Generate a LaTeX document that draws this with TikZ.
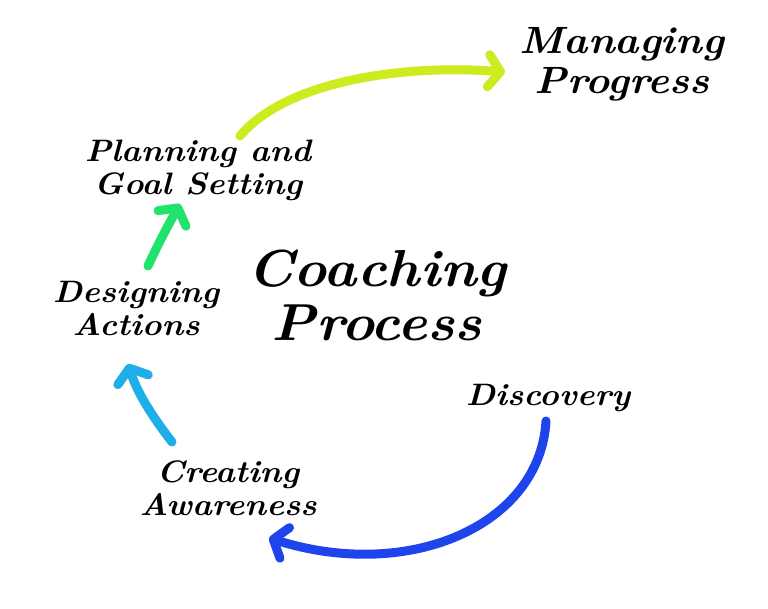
\documentclass[tikz,border=0pt]{standalone}
\usetikzlibrary{arrows.meta}
\definecolor{lime}{RGB}{205,235,30}
\definecolor{mint}{RGB}{34,226,110}
\definecolor{sky}{RGB}{30,175,232}
\definecolor{royal}{RGB}{30,68,236}
\newcommand{\wide}[1]{\scalebox{1.08}[1]{#1}}
\begin{document}
\begin{tikzpicture}[x=1pt,y=-1pt,
  lbl/.style={align=center,inner sep=0pt,text=black},
  big/.style={lbl,font=\bfseries\itshape\fontsize{52}{54}\selectfont},
  mid/.style={lbl,font=\bfseries\itshape\fontsize{38}{40}\selectfont},
  sml/.style={lbl,font=\bfseries\itshape\fontsize{31}{33}\selectfont},
  flow/.style={line width=9pt,line cap=round,
    -{Straight Barb[length=12pt,width=32pt,line cap=round,line join=round]}}]
\useasboundingbox (0,0) rectangle (768,609);
\fill[white] (0,0) rectangle (768,609);
\node[mid] (m) at (622,64) {\wide{Managing}\\\wide{Progress}};
\node[sml] (p) at (198,170) {\wide{Planning and}\\\wide{Goal Setting}};
\node[big] (c) at (377,295) {\wide{Coaching}\\\wide{Process}};
\node[sml] (d) at (136,308) {\wide{Designing}\\\wide{Actions}};
\node[sml] (disc) at (548,398) {\wide{Discovery}};
\node[sml] (cr) at (228,488) {\wide{Creating}\\\wide{Awareness}};
\coordinate (a1s) at (240,136);
\coordinate (a1e) at (505,72);
\coordinate (a2s) at (148,266);
\coordinate (a2e) at (180,204);
\coordinate (a3s) at (172,442);
\coordinate (a3e) at (128,364);
\coordinate (a4s) at (546,421);
\coordinate (a4e) at (269,538);
\draw[flow,lime] (a1s) .. controls (285,82) and (400,64) .. (a1e);
\draw[flow,mint] (a2s) .. controls (160,240) and (170,222) .. (a2e);
\draw[flow,sky] (a3s) .. controls (155,420) and (138,395) .. (a3e);
\draw[flow,royal] (a4s) .. controls (540,525) and (410,582) .. (a4e);
\end{tikzpicture}
\end{document}
